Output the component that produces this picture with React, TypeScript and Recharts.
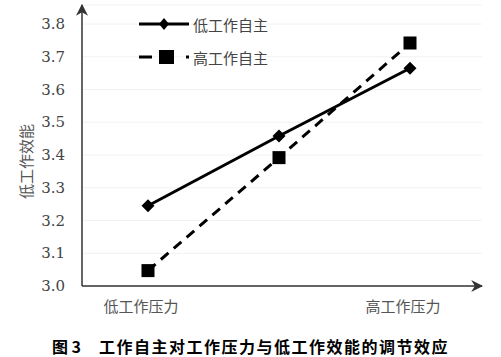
import {
  LineChart,
  Line,
  XAxis,
  YAxis,
  CartesianGrid,
  Legend,
} from "recharts";

const categories = ["低工作压力", "", "高工作压力"];
const lowAutonomy = [3.245, 3.458, 3.665];
const highAutonomy = [3.047, 3.392, 3.742];
const yTicks = [3.0, 3.1, 3.2, 3.3, 3.4, 3.5, 3.6, 3.7, 3.8];
const seriesNames = ["低工作自主", "高工作自主"];

const data = categories.map((name, i) => ({
  name,
  low: lowAutonomy[i],
  high: highAutonomy[i],
}));

const cjk = "Noto Sans CJK SC, sans-serif";

const Diamond = (props: any) => {
  const { cx, cy } = props;
  if (cx == null || cy == null) return null;
  const r = 6.5;
  return (
    <path
      d={`M${cx},${cy - r} L${cx + r},${cy} L${cx},${cy + r} L${cx - r},${cy} Z`}
      fill="#000"
    />
  );
};

const Square = (props: any) => {
  const { cx, cy } = props;
  if (cx == null || cy == null) return null;
  const s = 13;
  return <rect x={cx - s / 2} y={cy - s / 2} width={s} height={s} fill="#000" />;
};

const YTick = (props: any) => {
  const { x, y, payload } = props;
  return (
    <text
      x={x}
      y={y}
      dy={5}
      textAnchor="end"
      fill="#444"
      fontSize={15}
      style={{ fontFamily: "'DejaVu Serif', serif" }}
    >
      {Number(payload.value).toFixed(1)}
    </text>
  );
};

const XTick = (props: any) => {
  const { x, y, payload } = props;
  return (
    <text
      x={x - 7}
      y={y}
      dy={26}
      textAnchor="middle"
      fill="#555"
      fontSize={15}
      fontFamily={cjk}
    >
      {payload.value}
    </text>
  );
};

function LegendBox() {
  return (
    <div style={{ fontFamily: cjk, fontSize: 15, color: "#444" }}>
      <div style={{ display: "flex", alignItems: "center", height: 20 }}>
        <svg width={52} height={20}>
          <line x1={0} y1={10} x2={50} y2={10} stroke="#000" strokeWidth={3} />
          <path d="M25,4 L30,10 L25,16 L20,10 Z" fill="#000" />
        </svg>
        <span style={{ marginLeft: 2 }}>{seriesNames[0]}</span>
      </div>
      <div style={{ display: "flex", alignItems: "center", height: 20, marginTop: 13 }}>
        <svg width={52} height={20}>
          <line
            x1={0}
            y1={10}
            x2={50}
            y2={10}
            stroke="#000"
            strokeWidth={3}
            strokeDasharray="13 34 3"
          />
          <rect x={20} y={3} width={15} height={14} fill="#000" />
        </svg>
        <span style={{ marginLeft: 2 }}>{seriesNames[1]}</span>
      </div>
    </div>
  );
}

export default function App() {
  return (
    <div
      style={{
        position: "absolute",
        left: 0,
        top: 0,
        width: 501,
        height: 357,
        background: "#fff",
      }}
    >
      <LineChart
        width={501}
        height={357}
        data={data}
        margin={{ top: 5, right: 19, left: 0, bottom: 41 }}
      >
        <defs>
          <marker
            id="arrow"
            viewBox="0 0 10 10"
            refX="9"
            refY="5"
            markerWidth="12"
            markerHeight="12"
            markerUnits="userSpaceOnUse"
            orient="auto-start-reverse"
          >
            <path d="M0,0 L10,5 L0,10 L3,5 Z" fill="#333" />
          </marker>
        </defs>
        <CartesianGrid vertical={false} stroke="#f2f2f2" />
        <XAxis
          dataKey="name"
          height={30}
          padding={{ left: 66, right: 72 }}
          tickLine={false}
          tickSize={0}
          tickMargin={0}
          axisLine={{ stroke: "#333", strokeWidth: 1.5, markerEnd: "url(#arrow)" }}
          tick={<XTick />}
        />
        <YAxis
          width={82}
          domain={[3.0, 3.8]}
          ticks={yTicks}
          padding={{ top: 19 }}
          tickLine={false}
          tickSize={0}
          tickMargin={17}
          axisLine={{ stroke: "#333", strokeWidth: 1.5, markerStart: "url(#arrow)" }}
          tick={<YTick />}
          label={{
            value: "低工作效能",
            angle: -90,
            position: "insideLeft",
            dx: 22,
            dy: 16,
            style: { fill: "#555", fontSize: 15, fontFamily: cjk, textAnchor: "middle" },
          }}
        />
        <Legend
          layout="vertical"
          align="center"
          verticalAlign="middle"
          wrapperStyle={{ top: 14, left: 139, width: 200 }}
          content={() => <LegendBox />}
        />
        <Line
          dataKey="low"
          name={seriesNames[0]}
          stroke="#000"
          strokeWidth={3}
          dot={<Diamond />}
          activeDot={false}
          isAnimationActive={false}
        />
        <Line
          dataKey="high"
          name={seriesNames[1]}
          stroke="#000"
          strokeWidth={3}
          strokeDasharray="10 7"
          dot={<Square />}
          activeDot={false}
          isAnimationActive={false}
        />
      </LineChart>
      <div
        style={{
          position: "absolute",
          left: 0,
          top: 336,
          width: 501,
          textAlign: "center",
          fontFamily: cjk,
          fontWeight: 700,
          fontSize: 16,
          lineHeight: "20px",
          color: "#000",
        }}
      >
        <span style={{ marginRight: 18 }}>图 3</span>
        <span style={{ letterSpacing: 1.5 }}>工作自主对工作压力与低工作效能的调节效应</span>
      </div>
    </div>
  );
}
